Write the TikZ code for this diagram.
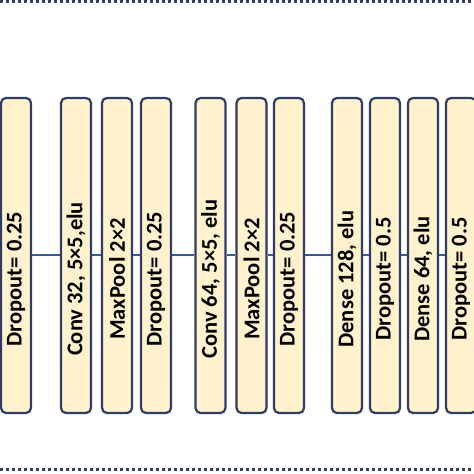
\documentclass[tikz,border=0pt]{standalone}
\usepackage{fontspec}
\setmainfont{Carlito}
\definecolor{boxfill}{HTML}{FFF2CC}
\definecolor{boxline}{HTML}{2F3D66}
\definecolor{linkline}{HTML}{3559A8}
\definecolor{dotline}{HTML}{2E3F6E}
\begin{document}
\begin{tikzpicture}[x=1pt,y=1pt,
  layerbox/.style={draw=boxline,fill=boxfill,line width=2.2pt,rounded corners=5pt,minimum width=30pt,minimum height=315pt,inner sep=0pt},
  layertext/.style={rotate=90,font=\bfseries\fontsize{22.5}{22.5}\selectfont,inner sep=0pt},
  link/.style={draw=linkline,line width=2pt},
  dotted line/.style={draw=dotline,line width=3pt,dash pattern=on 3pt off 3pt}]
\useasboundingbox (0,0) rectangle (474,474);
\clip (0,0) rectangle (474,474);
\coordinate (dl1) at (0,472);
\coordinate (dr1) at (474,472);
\coordinate (dl2) at (0,4);
\coordinate (dr2) at (474,4);
\draw[dotted line] (dl1) -- (dr1);
\draw[dotted line] (dl2) -- (dr2);
\foreach \n/\x in {1/16,2/76,3/117,4/156,5/210.5,6/251.5,7/289,8/347,9/385,10/423,11/461}{
  \node[layerbox] (b\n) at (\x,218.5) {};
}
\foreach \a/\b in {1/2,2/3,3/4,4/5,5/6,6/7,7/8,8/9,9/10,10/11}{
  \draw[link] (b\a.east) -- (b\b.west);
}
\foreach \n/\x/\t in {1/16/{Dropout= 0.25},2/76/{Conv 32, 5×5,elu},3/117/{MaxPool 2×2},4/156/{Dropout= 0.25},5/210.5/{Conv 64, 5×5, elu},6/251.5/{MaxPool 2×2},7/289/{Dropout= 0.25},8/347/{Dense 128, elu},9/385/{Dropout= 0.5},10/423/{Dense 64, elu},11/461/{Dropout= 0.5}}{
  \node[layertext] (t\n) at (\x,195) {\t};
}
\end{tikzpicture}
\end{document}
